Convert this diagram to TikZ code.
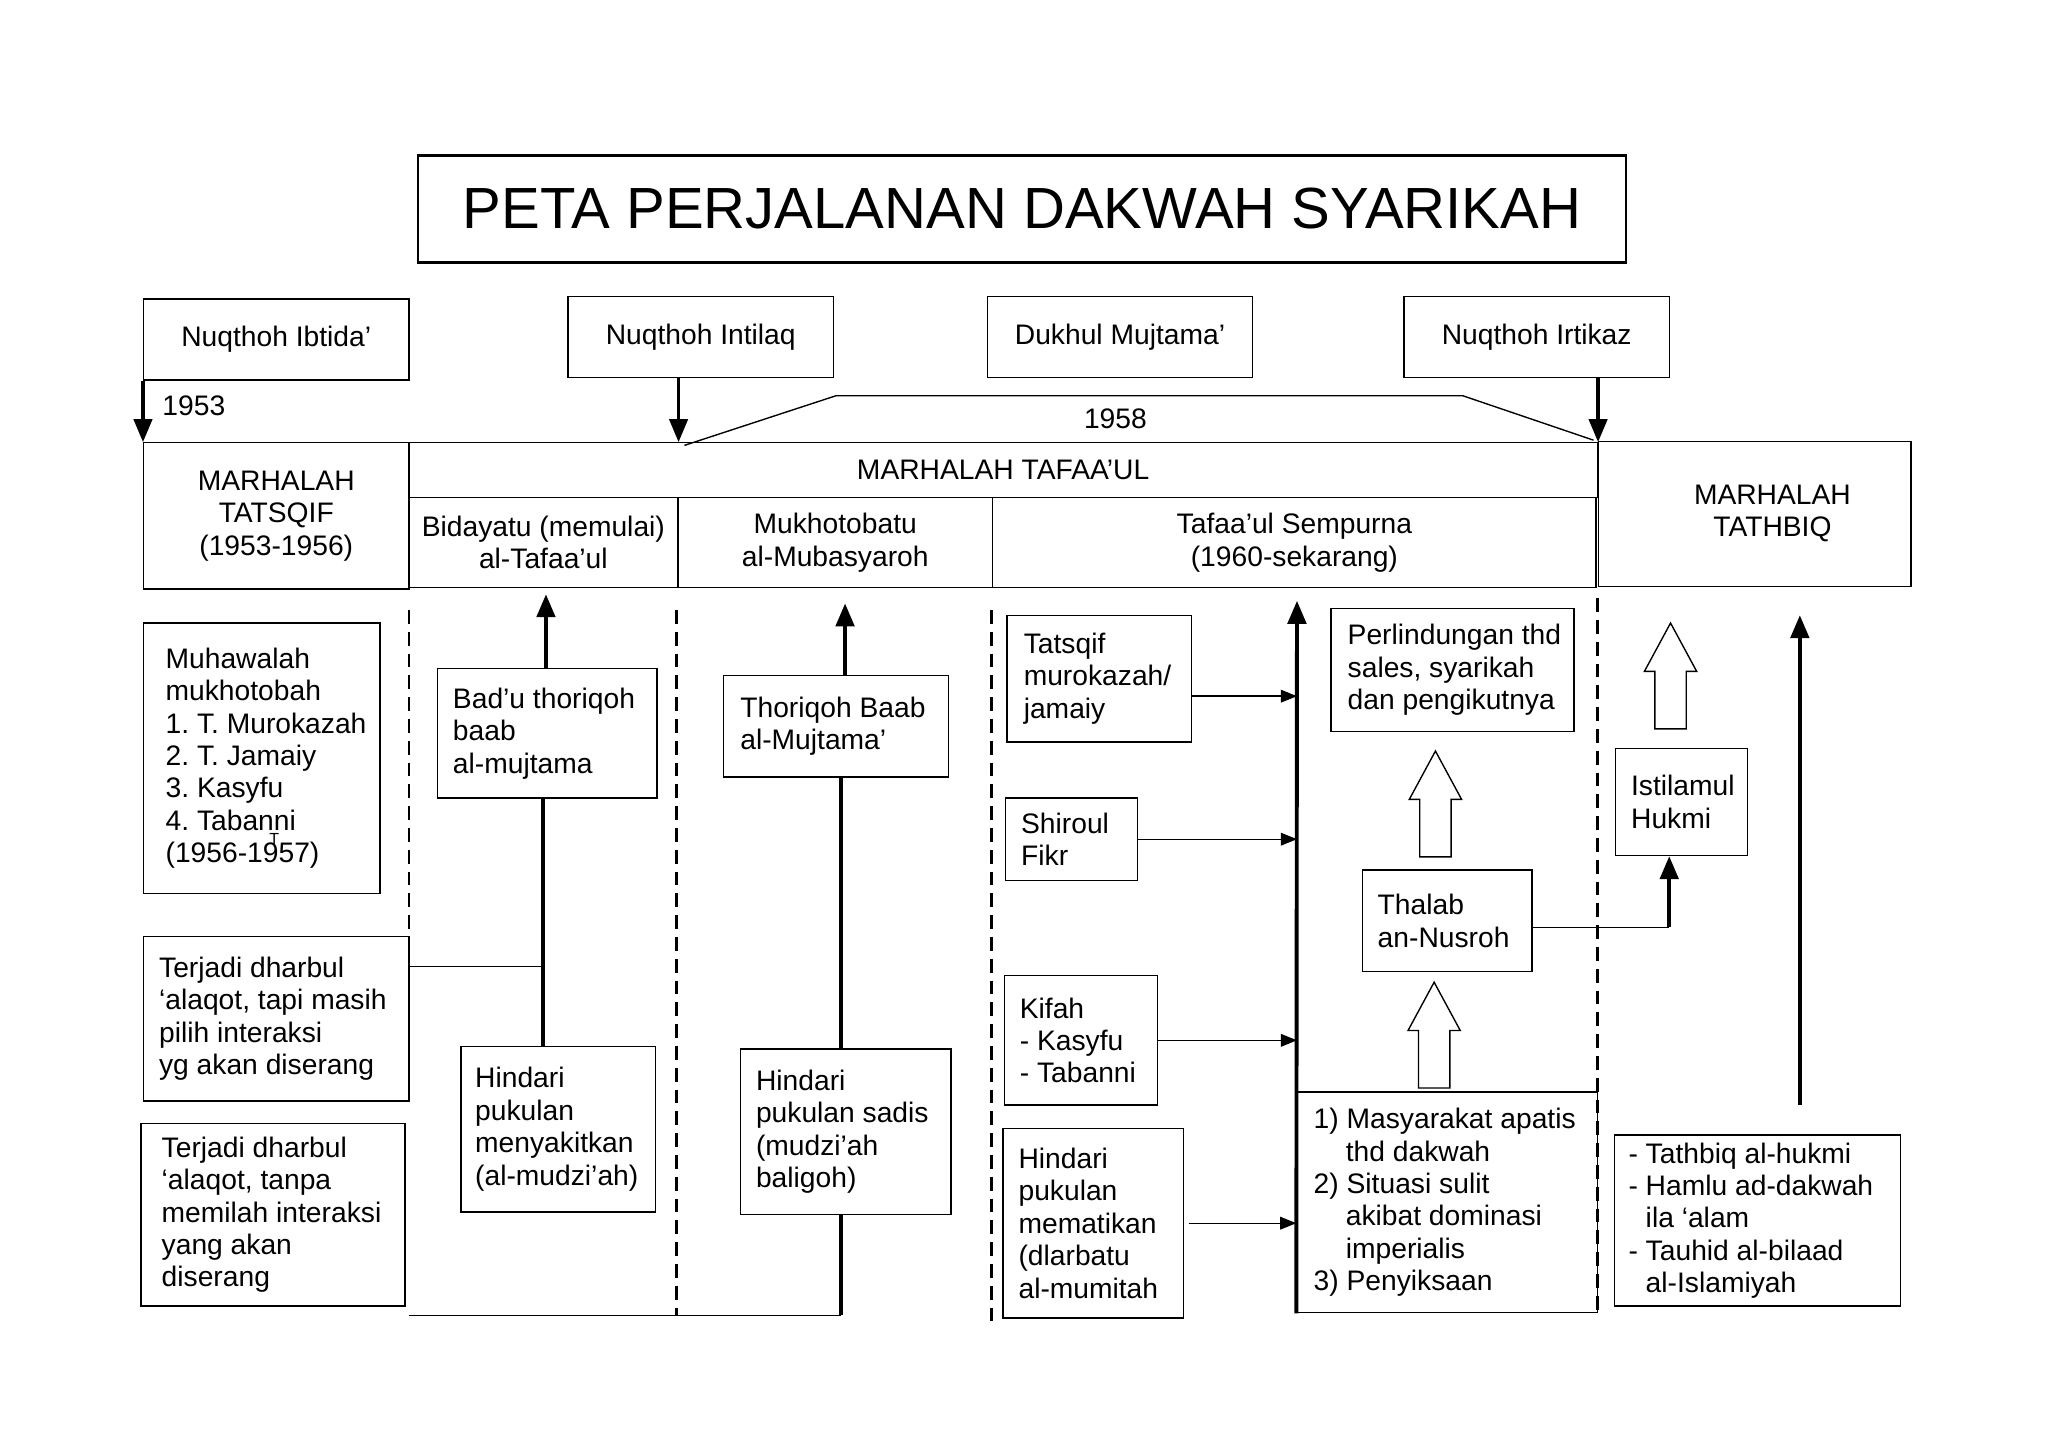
\documentclass[tikz,border=0pt]{standalone}
\usepackage{fontspec}
\setmainfont{Liberation Sans}
\frenchspacing
\usetikzlibrary{arrows.meta,fit,positioning}
\tikzset{
  box/.style={draw, line width=0.6pt, inner sep=0pt},
  head/.style={align=center, inner sep=0pt, font=\fontsize{12.3}{14.1}\selectfont},
  txt/.style={align=left, inner sep=0pt, font=\fontsize{12.3}{14.1}\selectfont},
  bigarrow/.style={line width=1.7pt, -{Triangle[length=10pt,width=8pt]}},
  smallarrow/.style={line width=0.6pt, -{Triangle[length=7pt,width=5.5pt]}},
  thickline/.style={line width=1.7pt},
  thinline/.style={line width=0.6pt},
  divider/.style={line width=1pt, dash pattern=on 6pt off 3.5pt},
  hollow/.pic={\draw[line width=0.6pt, fill=white] (-12,0) -- (-12,-44) -- (-20,-44) -- (0,-81) -- (20,-44) -- (12,-44) -- (12,0) -- cycle;}
}
\begin{document}
\begin{tikzpicture}[x=0.02cm, y=-0.02cm]
    \useasboundingbox (0,0) rectangle (1568,1109);
    % title
    \node[box, line width=1.1pt, fit={(320,119) (1245,201)}] (title) {};
    \node[inner sep=0pt, font=\fontsize{25.3}{30}\selectfont] at (title) (titletxt) {PETA PERJALANAN DAKWAH SYARIKAH};
    % points
    \node[box, fit={(110,229) (313,291)}] (ibt) {};
    \node[head] at (ibt) (ibttxt) {Nuqthoh Ibtida’};
    \node[box, fit={(435,227) (638,289)}] (intl) {};
    \node[head] at (intl) (intltxt) {Nuqthoh Intilaq};
    \node[box, fit={(756,227) (959,289)}] (dukh) {};
    \node[head] at (dukh) (dukhtxt) {Dukhul Mujtama’};
    \node[box, fit={(1075,227) (1278,289)}] (irt) {};
    \node[head] at (irt) (irttxt) {Nuqthoh Irtikaz};
    \node[txt, anchor=west] at (124,311) (y53) {1953};
    \node[txt] at (854,321) (y58) {1958};
    % marhalah band
    \node[box, fit={(110,339) (313,451)}] (tatsqif) {};
    \node[head] at (tatsqif) (tatsqiftxt) {MARHALAH\\TATSQIF\\(1953-1956)};
    \node[box, fit={(313,339) (1223,381)}] (tafa) {};
    \node[head] at (tafa) (tafatxt) {MARHALAH TAFAA’UL};
    \node[box, fit={(313,381) (519,450)}] (bida) {};
    \node[head] at (bida) (bidatxt) {Bidayatu (memulai)\\al-Tafaa’ul};
    \node[box, fit={(519,381) (760,450)}] (mukh) {};
    \node[head] at (mukh) (mukhtxt) {Mukhotobatu\\al-Mubasyaroh};
    \node[box, fit={(760,381) (1222,450)}] (semp) {};
    \node[head] at (semp) (semptxt) {Tafaa’ul Sempurna\\(1960-sekarang)};
    \node[box, fit={(1224,338) (1463,449)}] (tathbiq) {};
    \node[head] at (1357,393) (tathbiqtxt) {MARHALAH\\TATHBIQ};
    \draw[bigarrow, line width=1.4pt] (ibt.south west) -- (tatsqif.north west);
    \draw[bigarrow, line width=1.4pt] (intl.south -| bida.north east) -- (tafa.north -| bida.north east);
    \draw[bigarrow, line width=1.4pt] (irt.south -| tafa.north east) -- (tafa.north east);
    \draw[thinline] (524,341) -- (640,303) -- (1120,303) -- (1220,337);
    % dividers
    \draw[divider] (313,467) -- (313,717);
    \draw[divider] (518,467) -- (518,1007);
    \draw[divider] (759,467) -- (759,1012);
    \draw[divider] (1223,458) -- (1223,1007);
    % tatsqif column
    \node[box, fit={(110,477) (291,684)}] (muh) {};
    \node[txt, right=0.34cm of muh.west] (muhtxt) {Muhawalah\\mukhotobah\\1. T. Murokazah\\2. T. Jamaiy\\3. Kasyfu\\4. Tabanni\\(1956-1957)};
    \node[inner sep=0pt, font=\fontsize{7}{8}\selectfont] at (210,642) (stray) {T};
    \node[box, fit={(110,717) (313,843)}] (terj1) {};
    \node[txt, right=0.24cm of terj1.west] (terj1txt) {Terjadi dharbul\\‘alaqot, tapi masih\\pilih interaksi\\yg akan diserang};
    \node[box, fit={(108,860) (310,1000)}] (terj2) {};
    \node[txt, right=0.32cm of terj2.west] (terj2txt) {Terjadi dharbul\\‘alaqot, tanpa\\memilah interaksi\\yang akan\\diserang};
    % bidayatu column
    \node[box, fit={(335,512) (503,611)}] (badu) {};
    \node[txt, right=0.24cm of badu.west] (badutxt) {Bad’u thoriqoh\\baab\\al-mujtama};
    \node[box, fit={(353,801) (502,928)}] (hind1) {};
    \node[txt, right=0.22cm of hind1.west] (hind1txt) {Hindari\\pukulan\\menyakitkan\\(al-mudzi’ah)};
    \coordinate (up1) at (418,455);
    \coordinate (j1) at (416,740);
    \draw[bigarrow] (badu.north -| up1) -- (up1);
    \draw[thickline] (badu.south -| j1) -- (hind1.north -| j1);
    \draw[thinline] (terj1.east |- j1) -- (j1);
    % mukhotobatu column
    \node[box, fit={(554,517) (726,595)}] (thoriq) {};
    \node[txt, right=0.26cm of thoriq.west] (thoriqtxt) {Thoriqoh Baab\\al-Mujtama’};
    \node[box, fit={(567,803) (728,930)}] (hind2) {};
    \node[txt, right=0.24cm of hind2.west] (hind2txt) {Hindari\\pukulan sadis\\(mudzi’ah\\baligoh)};
    \coordinate (up2) at (647,462);
    \coordinate (j2) at (644,1007);
    \coordinate (b1) at (313,1007);
    \draw[bigarrow] (thoriq.north -| up2) -- (up2);
    \draw[thickline] (thoriq.south -| j2) -- (hind2.north -| j2);
    \draw[thickline] (hind2.south -| j2) -- (j2);
    \draw[thinline] (j2) -- (b1);
    % tafaa'ul sempurna column
    \node[box, fit={(771,471) (912,568)}] (tats) {};
    \node[txt, right=0.26cm of tats.west] (tatstxt) {Tatsqif\\murokazah/\\jamaiy};
    \node[box, fit={(770,611) (871,674)}] (shir) {};
    \node[txt, right=0.24cm of shir.west] (shirtxt) {Shiroul\\Fikr};
    \node[box, fit={(769,747) (886,846)}] (kifah) {};
    \node[txt, right=0.24cm of kifah.west] (kifahtxt) {Kifah\\- Kasyfu\\- Tabanni};
    \node[box, fit={(768,864) (906,1009)}] (hind3) {};
    \node[txt, right=0.24cm of hind3.west] (hind3txt) {Hindari\\pukulan\\mematikan\\(dlarbatu\\al-mumitah};
    \node[box, fit={(993,836) (1223,1005)}] (masy) {};
    \node[txt, right=0.26cm of masy.west] (masytxt) {1) Masyarakat apatis\\\hspace*{14pt}thd dakwah\\2) Situasi sulit\\\hspace*{14pt}akibat dominasi\\\hspace*{14pt}imperialis\\3) Penyiksaan};
    \coordinate (up3) at (993,460);
    \coordinate (t1) at (993,533);
    \draw[bigarrow] (masy.south west) -- (up3);
    \draw[smallarrow] (tats.east |- t1) -- (t1);
    \draw[smallarrow] (shir.east) -- (shir.east -| up3);
    \draw[smallarrow] (kifah.east) -- (kifah.east -| up3);
    \draw[smallarrow] ([xshift=2pt]hind3.east) -- (hind3.east -| masy.west);
    % nusroh
    \node[box, fit={(1019,466) (1205,560)}] (perl) {};
    \node[txt, right=0.26cm of perl.west] (perltxt) {Perlindungan thd\\sales, syarikah\\dan pengikutnya};
    \node[box, fit={(1043,666) (1173,744)}] (thalab) {};
    \node[txt, right=0.24cm of thalab.west] (thalabtxt) {Thalab\\an-Nusroh};
    \pic at (1099,656) {hollow};
    \pic at (1098,833) {hollow};
    % tathbiq column
    \node[box, fit={(1237,573) (1338,655)}] (istil) {};
    \node[txt, right=0.24cm of istil.west] (istiltxt) {Istilamul\\Hukmi};
    \node[box, fit={(1236,869) (1455,1000)}] (tathb) {};
    \node[txt, right=0.22cm of tathb.west] (tathbtxt) {- Tathbiq al-hukmi\\- Hamlu ad-dakwah\\\hspace*{7.5pt}ila ‘alam\\- Tauhid al-bilaad\\\hspace*{7.5pt}al-Islamiyah};
    \coordinate (k1) at (1278,710);
    \coordinate (up5) at (1378,471);
    \coordinate (lo5) at (1378,846);
    \draw[thinline] (thalab.east |- k1) -- (k1);
    \draw[bigarrow] (k1) -- (k1 |- istil.south);
    \pic at (1279,558) {hollow};
    \draw[bigarrow] (lo5) -- (up5);
\end{tikzpicture}
\end{document}
